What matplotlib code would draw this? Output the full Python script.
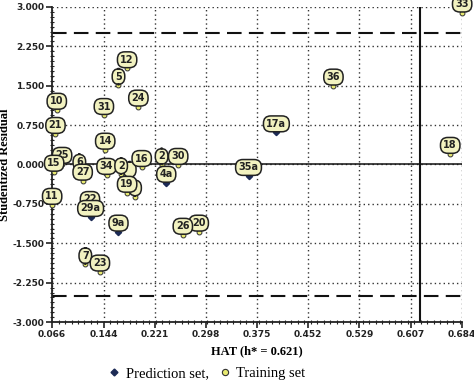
import matplotlib
matplotlib.use("Agg")
import matplotlib.pyplot as plt
from matplotlib.lines import Line2D
from matplotlib.ticker import FixedLocator, AutoMinorLocator

# Williams plot data
# blank labels are bubbles hidden behind a neighbour in the original
labels = ["33", "36", "17a", "18", "35a", "12", "5", "24", "10", "31",
          "21", "14", "25", "15", "6", "27", "34", "  ", "2", "16",
          "2", "30", "4a", "  ", "19", "11", "22", "29a", "9a", "20",
          "26", "7", "23"]
hat = [0.684, 0.490, 0.404, 0.666, 0.362, 0.179, 0.166, 0.196, 0.073, 0.144,
       0.071, 0.146, 0.081, 0.069, 0.107, 0.112, 0.148, 0.183, 0.170, 0.201,
       0.231, 0.256, 0.238, 0.191, 0.179, 0.066, 0.123, 0.124, 0.166, 0.287,
       0.263, 0.116, 0.138]
resid = [2.89, 1.50, 0.61, 0.20, -0.22, 1.83, 1.51, 1.10, 1.04, 0.94,
         0.58, 0.28, 0.01, -0.14, -0.12, -0.31, -0.20, -0.26, -0.19, -0.05,
         -0.01, -0.01, -0.35, -0.61, -0.54, -0.77, -0.83, -1.00, -1.28, -1.28,
         -1.34, -1.90, -2.04]
is_pred = [False, False, True, False, True, False, False, False, False, False,
           False, False, False, False, False, False, False, False, False, False,
           False, False, True, False, False, False, False, True, True, False,
           False, False, False]

x_ticks = [0.066, 0.144, 0.221, 0.298, 0.375, 0.452, 0.529, 0.607, 0.684]
y_ticks = [-3.0, -2.25, -1.5, -0.75, 0.0, 0.75, 1.5, 2.25, 3.0]
h_star = 0.621
resid_limit = 2.5

fig = plt.figure(figsize=(4.74, 3.83), dpi=100)
ax = fig.add_axes([0.110, 0.159, 0.865, 0.823])

ax.set_xlim(x_ticks[0], x_ticks[-1])
ax.set_ylim(y_ticks[0], y_ticks[-1])
ax.xaxis.set_major_locator(FixedLocator(x_ticks))
ax.yaxis.set_major_locator(FixedLocator(y_ticks))
ax.xaxis.set_minor_locator(AutoMinorLocator(8))
ax.yaxis.set_minor_locator(AutoMinorLocator(8))
ax.set_xticklabels([f"{v:.3f}" for v in x_ticks])
ax.set_yticklabels([f"{v:.3f}" for v in y_ticks])
ax.tick_params(which="major", direction="out", length=4, width=1.2,
               labelsize=6.5, pad=1.5, color="#222")
ax.tick_params(which="minor", direction="inout", length=3, width=0.8, color="#222")
for lab in ax.get_xticklabels() + ax.get_yticklabels():
    lab.set_fontweight("bold")
    lab.set_color("#222")

for s in ("top", "right"):
    ax.spines[s].set_visible(False)
for s in ("left", "bottom"):
    ax.spines[s].set_linewidth(1.3)
    ax.spines[s].set_color("#222")

ax.grid(True, which="major", linestyle=(0, (1, 2.2)), color="#333", linewidth=1.0)
ax.set_axisbelow(True)

# limits
ax.axhline(0, color="#111", linewidth=1.1, zorder=2)
ax.axhline(resid_limit, color="#111", linewidth=1.5, dashes=(7, 3.5), zorder=2)
ax.axhline(-resid_limit, color="#111", linewidth=1.5, dashes=(7, 3.5), zorder=2)
ax.axvline(h_star, color="#111", linewidth=1.5, zorder=2)

# markers + bubble labels
for i, (lab, x, y, p) in enumerate(zip(labels, hat, resid, is_pred)):
    if p:
        ax.plot(x, y, marker="D", ms=3.2, color="#1c2a55", mec="#1c2a55",
                zorder=3, clip_on=False)
    else:
        ax.plot(x, y, marker="o", ms=3.5, color="#e8ea70", mec="#333",
                mew=0.7, zorder=3, clip_on=False)
    ax.annotate(lab, (x, y), xytext=(0, 6.2), textcoords="offset points",
                ha="center", va="center", fontsize=7, fontweight="bold",
                color="#222", annotation_clip=False,
                bbox=dict(boxstyle="round,pad=0.3,rounding_size=0.75",
                          fc="#f2f2c0", ec="#222", lw=1.1),
                zorder=4 + i * 0.01)

ax.set_xlabel("HAT (h* = 0.621)", family="Liberation Serif", fontweight="bold",
              fontsize=9, labelpad=5)
ax.set_ylabel("Studentized Residual", family="Liberation Serif", fontweight="bold",
              fontsize=9)
ax.yaxis.set_label_coords(-0.1, 0.5)

handles = [
    Line2D([], [], linestyle="none", marker="D", ms=3.5, color="#1c2a55"),
    Line2D([], [], linestyle="none", marker="o", ms=4.5, mfc="#e8ea70",
           mec="#333", mew=0.8),
]
fig.legend(handles, ["Prediction set,", "Training set"], loc="center",
           bbox_to_anchor=(0.435, 0.024), ncol=2, frameon=False,
           prop={"family": "Liberation Serif", "size": 10.5},
           handletextpad=0.3, columnspacing=0.6, handlelength=1.0)

fig.savefig("out.png", dpi=100)
